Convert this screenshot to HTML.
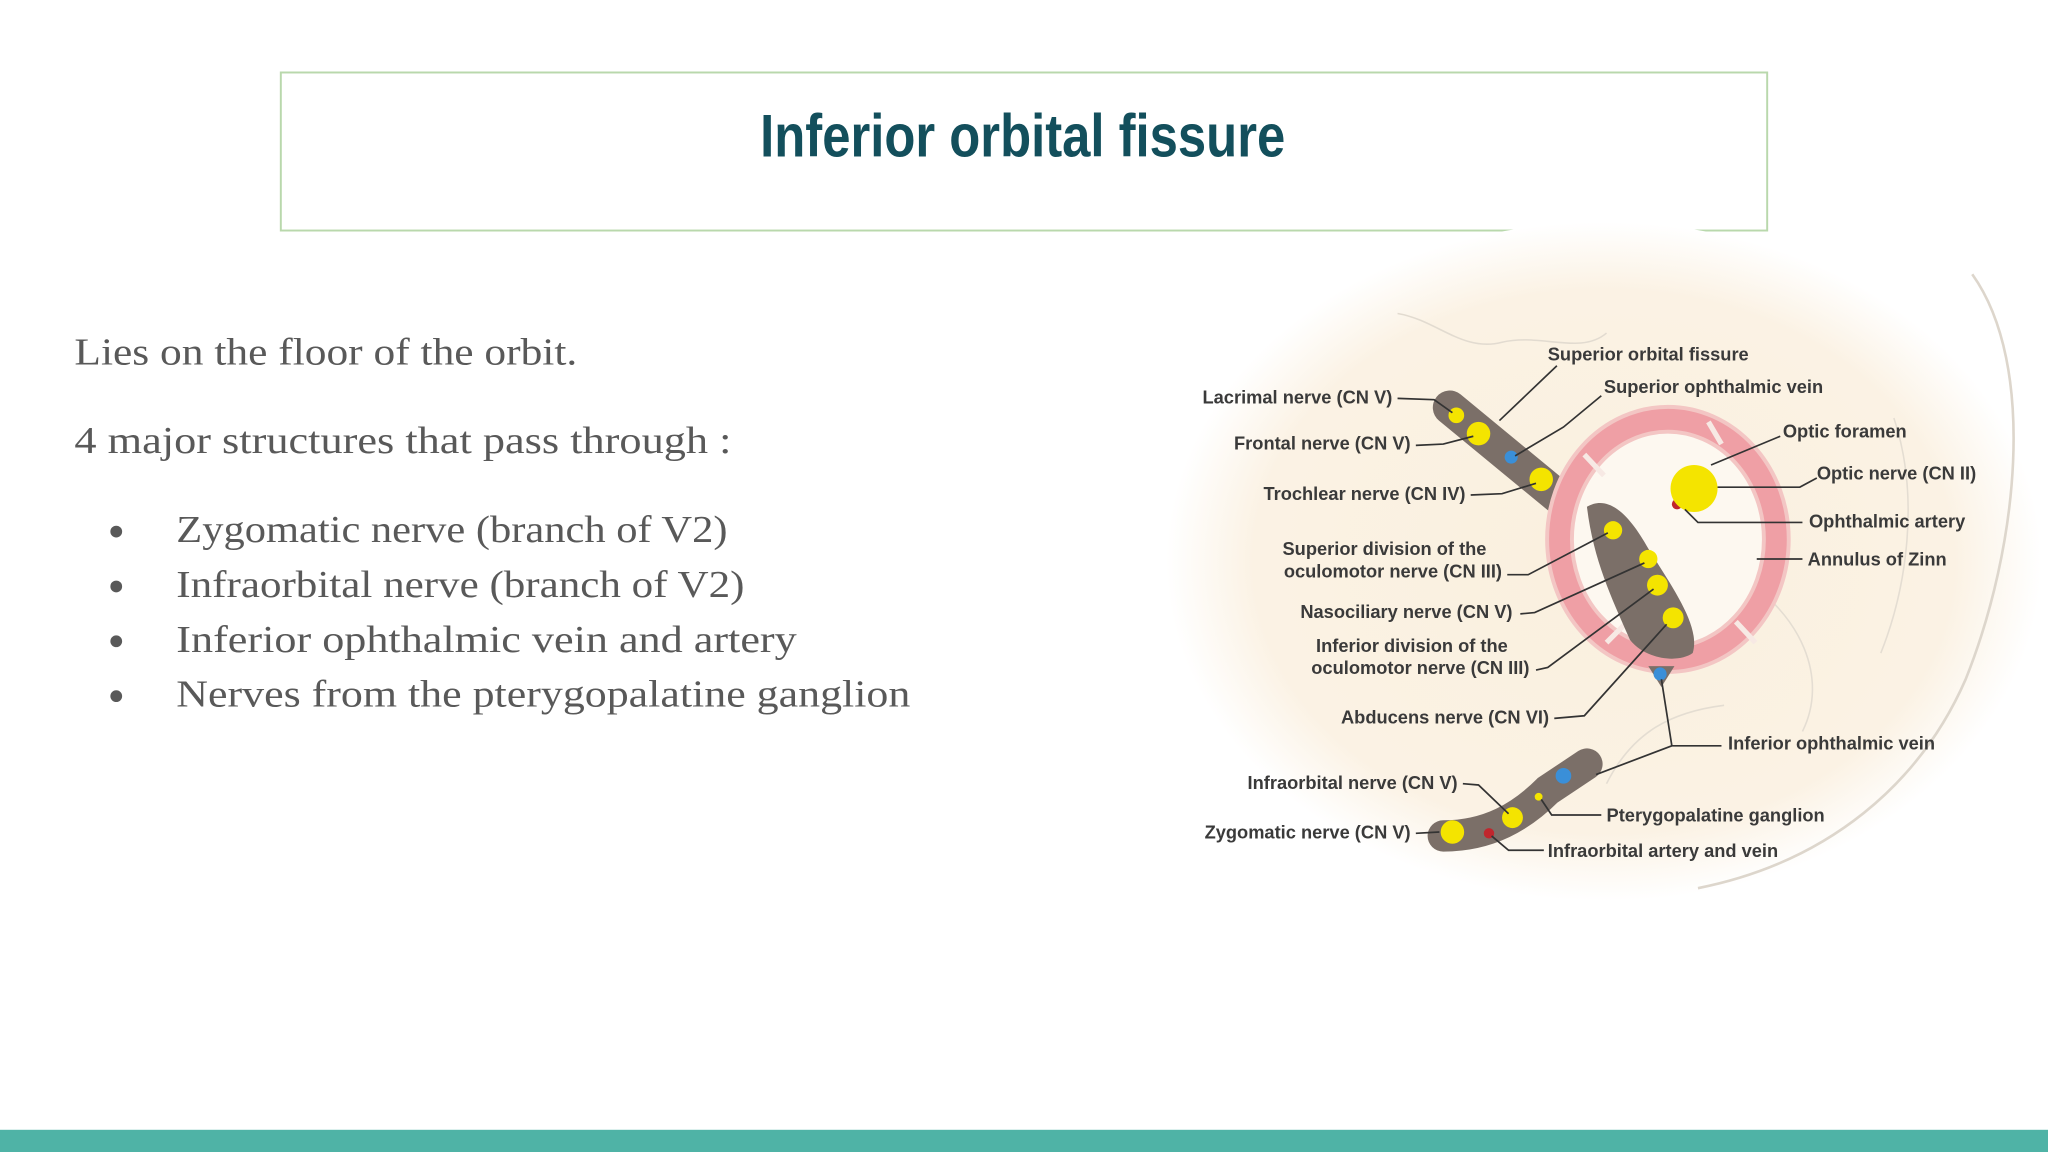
<!DOCTYPE html>
<html><head><meta charset="utf-8"><style>
html,body{margin:0;padding:0;background:#fff;width:2048px;height:1152px;overflow:hidden}
svg{display:block}
.l{font-family:"Liberation Sans",sans-serif;font-weight:bold;font-size:14px;fill:#3a3a3a}
.b{font-family:"Liberation Serif",serif;font-size:29px;fill:#595959}
.ln{stroke:#333;stroke-width:1.3;fill:none}
</style></head><body>
<svg width="2048" height="1152" viewBox="0 0 1568 882" xmlns="http://www.w3.org/2000/svg">
<defs>
<radialGradient id="bg" cx="0.5" cy="0.5" r="0.5">
<stop offset="0" stop-color="#faf0de"/><stop offset="0.8" stop-color="#fbf2e4"/><stop offset="1" stop-color="#ffffff"/>
</radialGradient>
</defs>
<rect x="215" y="55.5" width="1138" height="121" fill="none" stroke="#b9d8ac" stroke-width="1.5"/>
<text x="783" y="120" text-anchor="middle" font-family="'Liberation Sans Narrow','Liberation Sans',sans-serif" font-weight="bold" font-size="46" fill="#134f5c" textLength="402" lengthAdjust="spacingAndGlyphs">Inferior orbital fissure</text>

<text class="b" x="57" y="279" textLength="385" lengthAdjust="spacingAndGlyphs">Lies on the floor of the orbit.</text>
<text class="b" x="57" y="347" textLength="503" lengthAdjust="spacingAndGlyphs">4 major structures that pass through :</text>
<g>
<circle cx="89" cy="407" r="4.5" fill="#595959"/>
<circle cx="89" cy="449" r="4.5" fill="#595959"/>
<circle cx="89" cy="491" r="4.5" fill="#595959"/>
<circle cx="89" cy="533" r="4.5" fill="#595959"/>
<text class="b" x="135" y="415" textLength="422" lengthAdjust="spacingAndGlyphs">Zygomatic nerve (branch of V2)</text>
<text class="b" x="135" y="457" textLength="435" lengthAdjust="spacingAndGlyphs">Infraorbital nerve (branch of V2)</text>
<text class="b" x="135" y="499" textLength="475" lengthAdjust="spacingAndGlyphs">Inferior ophthalmic vein and artery</text>
<text class="b" x="135" y="541" textLength="562" lengthAdjust="spacingAndGlyphs">Nerves from the pterygopalatine ganglion</text>
</g>

<!-- diagram background -->
<ellipse cx="1228" cy="430" rx="335" ry="260" fill="url(#bg)"/>
<path d="M1510,210 C1560,280 1545,420 1505,520 C1470,600 1400,660 1300,680" fill="none" stroke="#ddd6cc" stroke-width="2"/>
<path d="M1070,240 C1100,245 1120,270 1150,262 C1180,255 1210,272 1230,255" fill="none" stroke="#e2dbd0" stroke-width="1.2"/>
<path d="M1330,440 C1380,470 1400,520 1380,560 M1230,600 C1250,560 1280,545 1320,540 M1450,320 C1470,380 1460,450 1440,500" fill="none" stroke="#e4ddd2" stroke-width="1.2"/>

<!-- superior band -->
<path d="M1110,312 L1195,382" stroke="#7b6f68" stroke-width="26" stroke-linecap="round"/>
<circle cx="1115" cy="318" r="6" fill="#f4e400"/>
<circle cx="1132" cy="332" r="9" fill="#f4e400"/>
<circle cx="1157" cy="350" r="5" fill="#3a8fd8"/>
<circle cx="1180" cy="367" r="9" fill="#f4e400"/>

<!-- annulus -->
<ellipse cx="1277" cy="413" rx="83" ry="92" fill="#fdf8f0" stroke="#f3c6c4" stroke-width="22"/>
<ellipse cx="1277" cy="413" rx="83" ry="92" fill="none" stroke="#ef9fa5" stroke-width="16"/>
<g stroke="#f7e9e4" stroke-width="4">
<line x1="1213" y1="348" x2="1228" y2="364"/>
<line x1="1246" y1="476" x2="1230" y2="492"/>
<line x1="1329" y1="476" x2="1344" y2="492"/>
<line x1="1308" y1="323" x2="1318" y2="340"/>
</g>
<path d="M1215,388 C1232,378 1248,395 1262,420 C1282,452 1302,480 1296,500 C1285,508 1260,505 1248,490 C1235,460 1220,430 1215,388 Z" fill="#7b6f68"/>
<circle cx="1235" cy="406" r="7" fill="#f4e400"/>
<circle cx="1262" cy="428" r="7" fill="#f4e400"/>
<circle cx="1269" cy="448" r="8" fill="#f4e400"/>
<circle cx="1281" cy="473" r="8" fill="#f4e400"/>
<circle cx="1284" cy="386" r="4" fill="#c0262d"/>
<circle cx="1297" cy="374" r="18" fill="#f4e400"/>
<path d="M1262,510 L1282,510 L1272,526 Z" fill="#7b6f68"/>
<circle cx="1271" cy="516" r="5" fill="#3a8fd8"/>

<!-- inferior band -->
<path d="M1105,640 C1140,640 1165,625 1185,605 L1215,585" stroke="#7b6f68" stroke-width="24" stroke-linecap="round" fill="none"/>
<circle cx="1112" cy="637" r="9" fill="#f4e400"/>
<circle cx="1140" cy="638" r="4" fill="#c0262d"/>
<circle cx="1158" cy="626" r="8" fill="#f4e400"/>
<circle cx="1178" cy="610" r="3" fill="#f4e400"/>
<circle cx="1197" cy="594" r="6" fill="#3a8fd8"/>

<!-- leader lines -->
<g class="ln">
<path d="M1148,322 L1192,280"/>
<path d="M1160,349 L1197,327 L1226,303"/>
<path d="M1070,305 L1098,306 L1112,316"/>
<path d="M1084,341 L1105,340 L1128,334"/>
<path d="M1126,379 L1150,378 L1176,370"/>
<path d="M1310,356 L1363,334"/>
<path d="M1315,373 L1378,373 L1391,366"/>
<path d="M1290,390 L1300,400 L1380,400"/>
<path d="M1345,428 L1380,428"/>
<path d="M1154,440 L1170,440 L1231,408"/>
<path d="M1164,470 L1175,469 L1259,431"/>
<path d="M1176,513 L1185,511 L1266,451"/>
<path d="M1190,550 L1213,548 L1276,478"/>
<path d="M1272,520 L1280,571 L1318,571 M1280,571 L1222,593"/>
<path d="M1120,600 L1132,601 L1155,623"/>
<path d="M1180,612 L1188,624 L1226,624"/>
<path d="M1084,638 L1102,637"/>
<path d="M1142,640 L1155,651 L1182,651"/>
</g>

<!-- labels -->
<g class="l">
<text x="1185" y="276">Superior orbital fissure</text>
<text x="1228" y="301">Superior ophthalmic vein</text>
<text x="1066" y="309" text-anchor="end">Lacrimal nerve (CN V)</text>
<text x="1080" y="344" text-anchor="end">Frontal nerve (CN V)</text>
<text x="1365" y="335">Optic foramen</text>
<text x="1391" y="367">Optic nerve (CN II)</text>
<text x="1122" y="383" text-anchor="end">Trochlear nerve (CN IV)</text>
<text x="1385" y="404">Ophthalmic artery</text>
<text x="1060" y="425" text-anchor="middle">Superior division of the</text>
<text x="1150" y="442" text-anchor="end">oculomotor nerve (CN III)</text>
<text x="1384" y="433">Annulus of Zinn</text>
<text x="1158" y="473" text-anchor="end">Nasociliary nerve (CN V)</text>
<text x="1081" y="499" text-anchor="middle">Inferior division of the</text>
<text x="1171" y="516" text-anchor="end">oculomotor nerve (CN III)</text>
<text x="1186" y="554" text-anchor="end">Abducens nerve (CN VI)</text>
<text x="1323" y="574">Inferior ophthalmic vein</text>
<text x="1116" y="604" text-anchor="end">Infraorbital nerve (CN V)</text>
<text x="1230" y="629">Pterygopalatine ganglion</text>
<text x="1080" y="642" text-anchor="end">Zygomatic nerve (CN V)</text>
<text x="1185" y="656">Infraorbital artery and vein</text>
</g>

<rect x="0" y="865" width="1568" height="17" fill="#4fb3a6"/>
</svg>
</body></html>
